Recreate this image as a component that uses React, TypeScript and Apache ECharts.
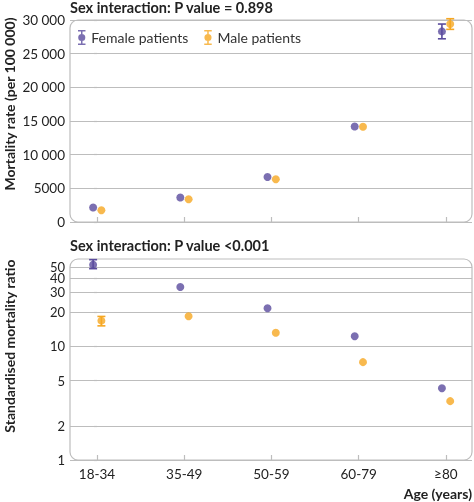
import React, { useEffect, useRef } from "react";
import * as echarts from "echarts";

const categories = ["18-34", "35-49", "50-59", "60-79", "≥80"];
const rateFemale = [2150, 3630, 6690, 14190, 28310];
const rateMale = [1750, 3380, 6350, 14150, 29400];
const rateFemaleLow = [null, null, null, null, 27210];
const rateFemaleHigh = [null, null, null, null, 29400];
const rateMaleLow = [null, null, null, null, 28610];
const rateMaleHigh = [null, null, null, null, 30190];
const smrFemale = [52.6, 33.4, 21.7, 12.3, 4.29];
const smrMale = [16.9, 18.5, 13.2, 7.28, 3.3];
const smrFemaleLow = [48.5, null, null, null, null];
const smrFemaleHigh = [58.2, null, null, null, null];
const smrMaleLow = [15.2, null, null, null, null];
const smrMaleHigh = [18.4, null, null, null, null];
const smrTicks = [1, 2, 5, 10, 20, 30, 40, 50];
const smrMax = 59;
const topTitle = "Sex interaction: P value = 0.898";
const bottomTitle = "Sex interaction: P value <0.001";

const PURPLE = "#5a4b9d";
const ORANGE = "#f6a722";
const GRID = "#bdbdbd";
const TEXT = "#222222";
const FONT = "Lato";
const DODGE_F = -0.045;
const DODGE_M = 0.05;

const ICON =
  "path://M2,0 H10 V1.6 H2 Z M5.2,0 H6.8 V16 H5.2 Z M2,14.4 H10 V16 H2 Z M2.2,8 A3.8,3.8 0 1 1 9.8,8 A3.8,3.8 0 1 1 2.2,8 Z";

function errData(lo: (number | null)[], hi: (number | null)[], dodge: number, tf: (v: number) => number) {
  const out: number[][] = [];
  lo.forEach((l, i) => {
    const h = hi[i];
    if (l != null && h != null) out.push([i + dodge, tf(l), tf(h)]);
  });
  return out;
}

function errSeries(data: number[][], color: string, axis: number) {
  return {
    type: "custom",
    xAxisIndex: axis,
    yAxisIndex: axis,
    silent: true,
    clip: false,
    z: 3,
    encode: { x: 0, y: [1, 2] },
    data,
    renderItem: (_p: any, api: any) => {
      const x = api.value(0);
      const a = api.coord([x, api.value(1)]);
      const b = api.coord([x, api.value(2)]);
      const w = 4;
      const st = { stroke: color, lineWidth: 1.6 };
      return {
        type: "group",
        children: [
          { type: "line", shape: { x1: a[0], y1: a[1], x2: b[0], y2: b[1] }, style: st },
          { type: "line", shape: { x1: a[0] - w, y1: a[1], x2: a[0] + w, y2: a[1] }, style: st },
          { type: "line", shape: { x1: b[0] - w, y1: b[1], x2: b[0] + w, y2: b[1] }, style: st },
        ],
      };
    },
  };
}

const ident = (v: number) => v;
const lg = (v: number) => Math.log10(v);

export default function App() {
  const ref = useRef<HTMLDivElement>(null);
  useEffect(() => {
    if (!ref.current) return;
    const chart = echarts.init(ref.current, null, { renderer: "svg" });
    const G1 = { left: 70, top: 20, width: 402, height: 202 };
    const G2 = { left: 70, top: 259, width: 402, height: 201 };
    const xBase = (show: boolean) => ({
      type: "value",
      min: -0.31,
      max: 4.3,
      axisLine: { show: false },
      splitLine: { show: false },
      axisTick: { show: true, inside: true, length: 5, customValues: [0, 1, 2, 3, 4], lineStyle: { color: GRID, width: 1.2 } },
      axisLabel: {
        show,
        customValues: [0, 1, 2, 3, 4],
        showMinLabel: true,
        showMaxLabel: true,
        formatter: (v: number) => categories[Math.round(v)] ?? "",
        color: TEXT,
        fontSize: 13.5,
        fontFamily: FONT,
        margin: 7,
      },
    });
    const option: any = {
      animation: false,
      textStyle: { fontFamily: FONT },
      title: [
        { text: topTitle, left: 70, top: 0, padding: 0, textStyle: { fontSize: 14.5, fontWeight: "bold", color: TEXT, fontFamily: FONT } },
        { text: bottomTitle, left: 70, top: 237.5, padding: 0, textStyle: { fontSize: 14.5, fontWeight: "bold", color: TEXT, fontFamily: FONT } },
      ],
      legend: {
        left: 78,
        top: 30,
        padding: 0,
        itemWidth: 9,
        itemHeight: 15,
        itemGap: 16,
        textStyle: { fontSize: 14, color: "#333", fontFamily: FONT },
        data: [
          { name: "Female patients", icon: ICON, itemStyle: { color: PURPLE } },
          { name: "Male patients", icon: ICON, itemStyle: { color: ORANGE } },
        ],
      },
      grid: [
        { ...G1, containLabel: false },
        { ...G2, containLabel: false },
      ],
      xAxis: [
        { ...xBase(false), gridIndex: 0 },
        { ...xBase(true), gridIndex: 1 },
      ],
      yAxis: [
        {
          type: "value",
          gridIndex: 0,
          min: 0,
          max: 30000,
          interval: 5000,
          axisLine: { show: false },
          axisTick: { show: true, length: 3, lineStyle: { color: GRID, width: 1.2 } },
          splitLine: { show: true, lineStyle: { color: GRID, width: 1.2 } },
          axisLabel: {
            color: TEXT,
            fontSize: 13.5,
            fontFamily: FONT,
            margin: 5,
            showMinLabel: true,
            showMaxLabel: true,
            formatter: (v: number) => (v >= 10000 ? v.toLocaleString("en-US").replace(",", " ") : String(v)),
          },
        },
        {
          type: "value",
          gridIndex: 1,
          min: 0,
          max: Math.log10(smrMax),
          axisLine: { show: false },
          axisTick: { show: true, length: 3, customValues: smrTicks.map(lg), lineStyle: { color: GRID, width: 1.2 } },
          splitLine: { show: false },
          axisLabel: { show: false },
        },
      ],
      graphic: [
        { type: "rect", shape: { x: 70, y: 20, width: 402, height: 202, r: 8 }, style: { fill: "none", stroke: GRID, lineWidth: 1.2 }, silent: true, z: 1 },
        { type: "rect", shape: { x: 70, y: 259, width: 402, height: 201, r: 8 }, style: { fill: "none", stroke: GRID, lineWidth: 1.2 }, silent: true, z: 1 },
        { type: "text", x: 9, y: 104, rotation: Math.PI / 2, style: { text: "Mortality rate (per 100 000)", fontSize: 14, fontWeight: "bold", fill: TEXT, fontFamily: FONT, align: "center", verticalAlign: "middle" } },
        { type: "text", x: 9, y: 346, rotation: Math.PI / 2, style: { text: "Standardised mortality ratio", fontSize: 14, fontWeight: "bold", fill: TEXT, fontFamily: FONT, align: "center", verticalAlign: "middle" } },
        { type: "text", x: 472, y: 493, style: { text: "Age (years)", fontSize: 14, fontWeight: "bold", fill: TEXT, fontFamily: FONT, align: "right", verticalAlign: "middle" } },
      ],
      series: [
        errSeries(errData(rateFemaleLow, rateFemaleHigh, DODGE_F, ident), PURPLE, 0),
        errSeries(errData(rateMaleLow, rateMaleHigh, DODGE_M, ident), ORANGE, 0),
        errSeries(errData(smrFemaleLow, smrFemaleHigh, DODGE_F, lg), PURPLE, 1),
        errSeries(errData(smrMaleLow, smrMaleHigh, DODGE_M, lg), ORANGE, 1),
        { name: "Female patients", type: "scatter", xAxisIndex: 0, yAxisIndex: 0, symbol: "circle", symbolSize: 8, clip: false, z: 4, itemStyle: { color: PURPLE }, data: rateFemale.map((v, i) => [i + DODGE_F, v]) },
        { name: "Male patients", type: "scatter", xAxisIndex: 0, yAxisIndex: 0, symbol: "circle", symbolSize: 8, clip: false, z: 4, itemStyle: { color: ORANGE }, data: rateMale.map((v, i) => [i + DODGE_M, v]) },
        {
          name: "Female patients",
          type: "scatter",
          xAxisIndex: 1,
          yAxisIndex: 1,
          symbol: "circle",
          symbolSize: 8,
          clip: false,
          z: 4,
          itemStyle: { color: PURPLE },
          data: smrFemale.map((v, i) => [i + DODGE_F, lg(v)]),
          markLine: {
            silent: true,
            symbol: "none",
            z: 1,
            lineStyle: { color: GRID, width: 1.2, type: "solid" },
            label: {
              show: true,
              position: "start",
              distance: 5,
              color: TEXT,
              fontSize: 13,
              lineHeight: 11,
              fontFamily: FONT,
              formatter: (p: any) => String(Math.round(Math.pow(10, p.value))),
            },
            emphasis: { disabled: true },
            data: smrTicks.map((t) => ({ yAxis: lg(t) })),
          },
        },
        { name: "Male patients", type: "scatter", xAxisIndex: 1, yAxisIndex: 1, symbol: "circle", symbolSize: 8, clip: false, z: 4, itemStyle: { color: ORANGE }, data: smrMale.map((v, i) => [i + DODGE_M, lg(v)]) },
      ],
    };
    chart.setOption(option);
    return () => chart.dispose();
  }, []);
  return <div ref={ref} style={{ position: "fixed", left: 0, top: 0, width: 474, height: 502 }} />;
}
